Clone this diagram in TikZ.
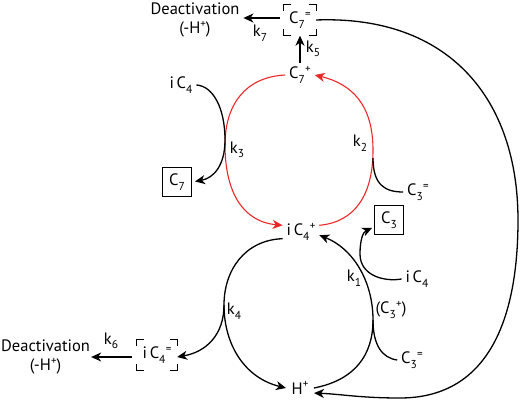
\documentclass[tikz,border=0pt]{standalone}
\usepackage{fontspec}
\setmainfont{PT Sans}
\usetikzlibrary{arrows.meta}
\definecolor{loopred}{RGB}{235,40,40}
% lowered and raised indices
\newcommand{\lo}[1]{\raisebox{-.55ex}{\fontsize{11.5}{12}\selectfont#1}}
\newcommand{\hi}[1]{\raisebox{.75ex}{\fontsize{11}{12}\selectfont#1}}
% species with stacked sub- and superscript
\newcommand{\chm}[3]{#1\rlap{\lo{#2}}\hspace{.4em}\hi{#3}}
% square corner marks round a node
\newcommand{\corners}[1]{%
  \draw[line width=1.2pt] ([xshift=7pt]#1.north west) -| ([yshift=-7pt]#1.north west);
  \draw[line width=1.2pt] ([xshift=-7pt]#1.north east) -| ([yshift=-7pt]#1.north east);
  \draw[line width=1.2pt] ([xshift=7pt]#1.south west) -| ([yshift=7pt]#1.south west);
  \draw[line width=1.2pt] ([xshift=-7pt]#1.south east) -| ([yshift=7pt]#1.south east);}
\begin{document}
\begin{tikzpicture}[x=1pt,y=-1pt,font=\fontsize{16.5}{19}\selectfont,line width=1.3pt,
  >={Stealth[length=10pt,width=9pt,inset=3pt]},
  redloop/.style={draw=loopred,line width=1.1pt},
  boxed/.style={draw,line width=1.1pt,minimum size=29pt,inner sep=0pt},
  bracketed/.style={minimum height=30pt,inner sep=0pt}]
\useasboundingbox (0,0) rectangle (520,404);

	%species
	\node[align=center] (deactop) at (195,20) {Deactivation\\(-H\hi{+})};
	\node[bracketed,minimum width=31pt] (c7eq) at (300,20) {\chm{C}{7}{=}};
	\corners{c7eq}
	\node (c7p) at (300,75) {\chm{C}{7}{+}};
	\node (ic4a) at (181,85) {i\,C\lo{4}};
	\node[boxed] (c7box) at (177,182) {C\lo{7}};
	\node (c3eqa) at (418,192) {\chm{C}{3}{=}};
	\node (ic4p) at (301,232) {i\,\chm{C}{4}{+}};
	\node[boxed] (c3box) at (389,220) {C\lo{3}};
	\node (ic4b) at (417,279) {i\,C\lo{4}};
	\node (c3p) at (391,310) {(\chm{C}{3}{+})};
	\node (c3eqb) at (412,360) {\chm{C}{3}{=}};
	\node[inner sep=5pt] (hp) at (300,388) {H\hi{+}};
	\node[bracketed,minimum width=39pt] (ic4eq) at (157,355) {i\,\chm{C}{4}{=}};
	\corners{ic4eq}
	\node[align=center,anchor=west,inner xsep=0.5pt] (deacbot) at (0,357) {Deactivation\\(-H\hi{+})};

	%rate constants
	\node (k1) at (354,278) {k\lo{1}};
	\node (k2) at (360,143) {k\lo{2}};
	\node (k3) at (237,150) {k\lo{3}};
	\node (k4) at (234,311) {k\lo{4}};
	\node (k5) at (313,49) {k\lo{5}};
	\node (k6) at (111,341) {k\lo{6}};
	\node (k7) at (260,33) {k\lo{7}};

	%branch points on the loops
	\coordinate (j2) at (373,158);
	\coordinate (j3) at (225,140);
	\coordinate (j1) at (373,320);
	\coordinate (j4) at (224,305);

	%upper cycle
	\draw[redloop,->] (c7p.west) .. controls (245,77) and (225,105) .. (225,145)
	  .. controls (225,195) and (245,222) .. (ic4p.160); %k3 side
	\draw[redloop,->] (ic4p.20) .. controls (355,222) and (373,195) .. (373,150)
	  .. controls (373,105) and (352,84) .. (c7p.east); %k2 side
	\draw[->,shorten >=3pt] (ic4a.east) .. controls (213,86) and (225,108) .. (j3)
	  .. controls (225,165) and (214,178) .. (c7box.east); %iC4 in, C7 out
	\draw (j2) .. controls (373,185) and (385,192) .. (c3eqa.west); %C3= in

	%lower cycle
	\draw[->] (ic4p.200) .. controls (245,240) and (224,270) .. (j4)
	  .. controls (224,345) and (245,378) .. (hp.west); %k4 side
	\draw[->] (hp.east) .. controls (355,380) and (373,355) .. (j1)
	  .. controls (373,280) and (352,248) .. (ic4p.-10); %k1 side
	\draw[->,shorten >=2pt] (ic4b.west) .. controls (385,282) and (360,276) .. (360,254)
	  .. controls (360,240) and (363,232) .. (c3box.205); %iC4 in, C3 out
	\draw (c3eqb.west) .. controls (382,358) and (373,345) .. (j1); %C3= in
	\draw[->] (j4) .. controls (224,335) and (206,352) .. ([yshift=-2pt]ic4eq.east); %to iC4=

	%deactivation
	\draw[->] (c7p.north) -- (c7eq.south); %k5
	\draw[->,shorten <=4pt] ([yshift=2pt]c7eq.west) -- ([yshift=2pt]c7eq.west -| deactop.east); %k7
	\draw[->,shorten <=5pt] ([yshift=-2pt]ic4eq.west) -- ([yshift=-2pt]ic4eq.west -| deacbot.east); %k6
	\draw[->] (c7eq.east) .. controls (450,15) and (518,100) .. (518,220)
	  .. controls (518,325) and (485,398) .. (400,398)
	  .. controls (360,398) and (340,394) .. (hp.-20); %C7= back to H+

\end{tikzpicture}
\end{document}
